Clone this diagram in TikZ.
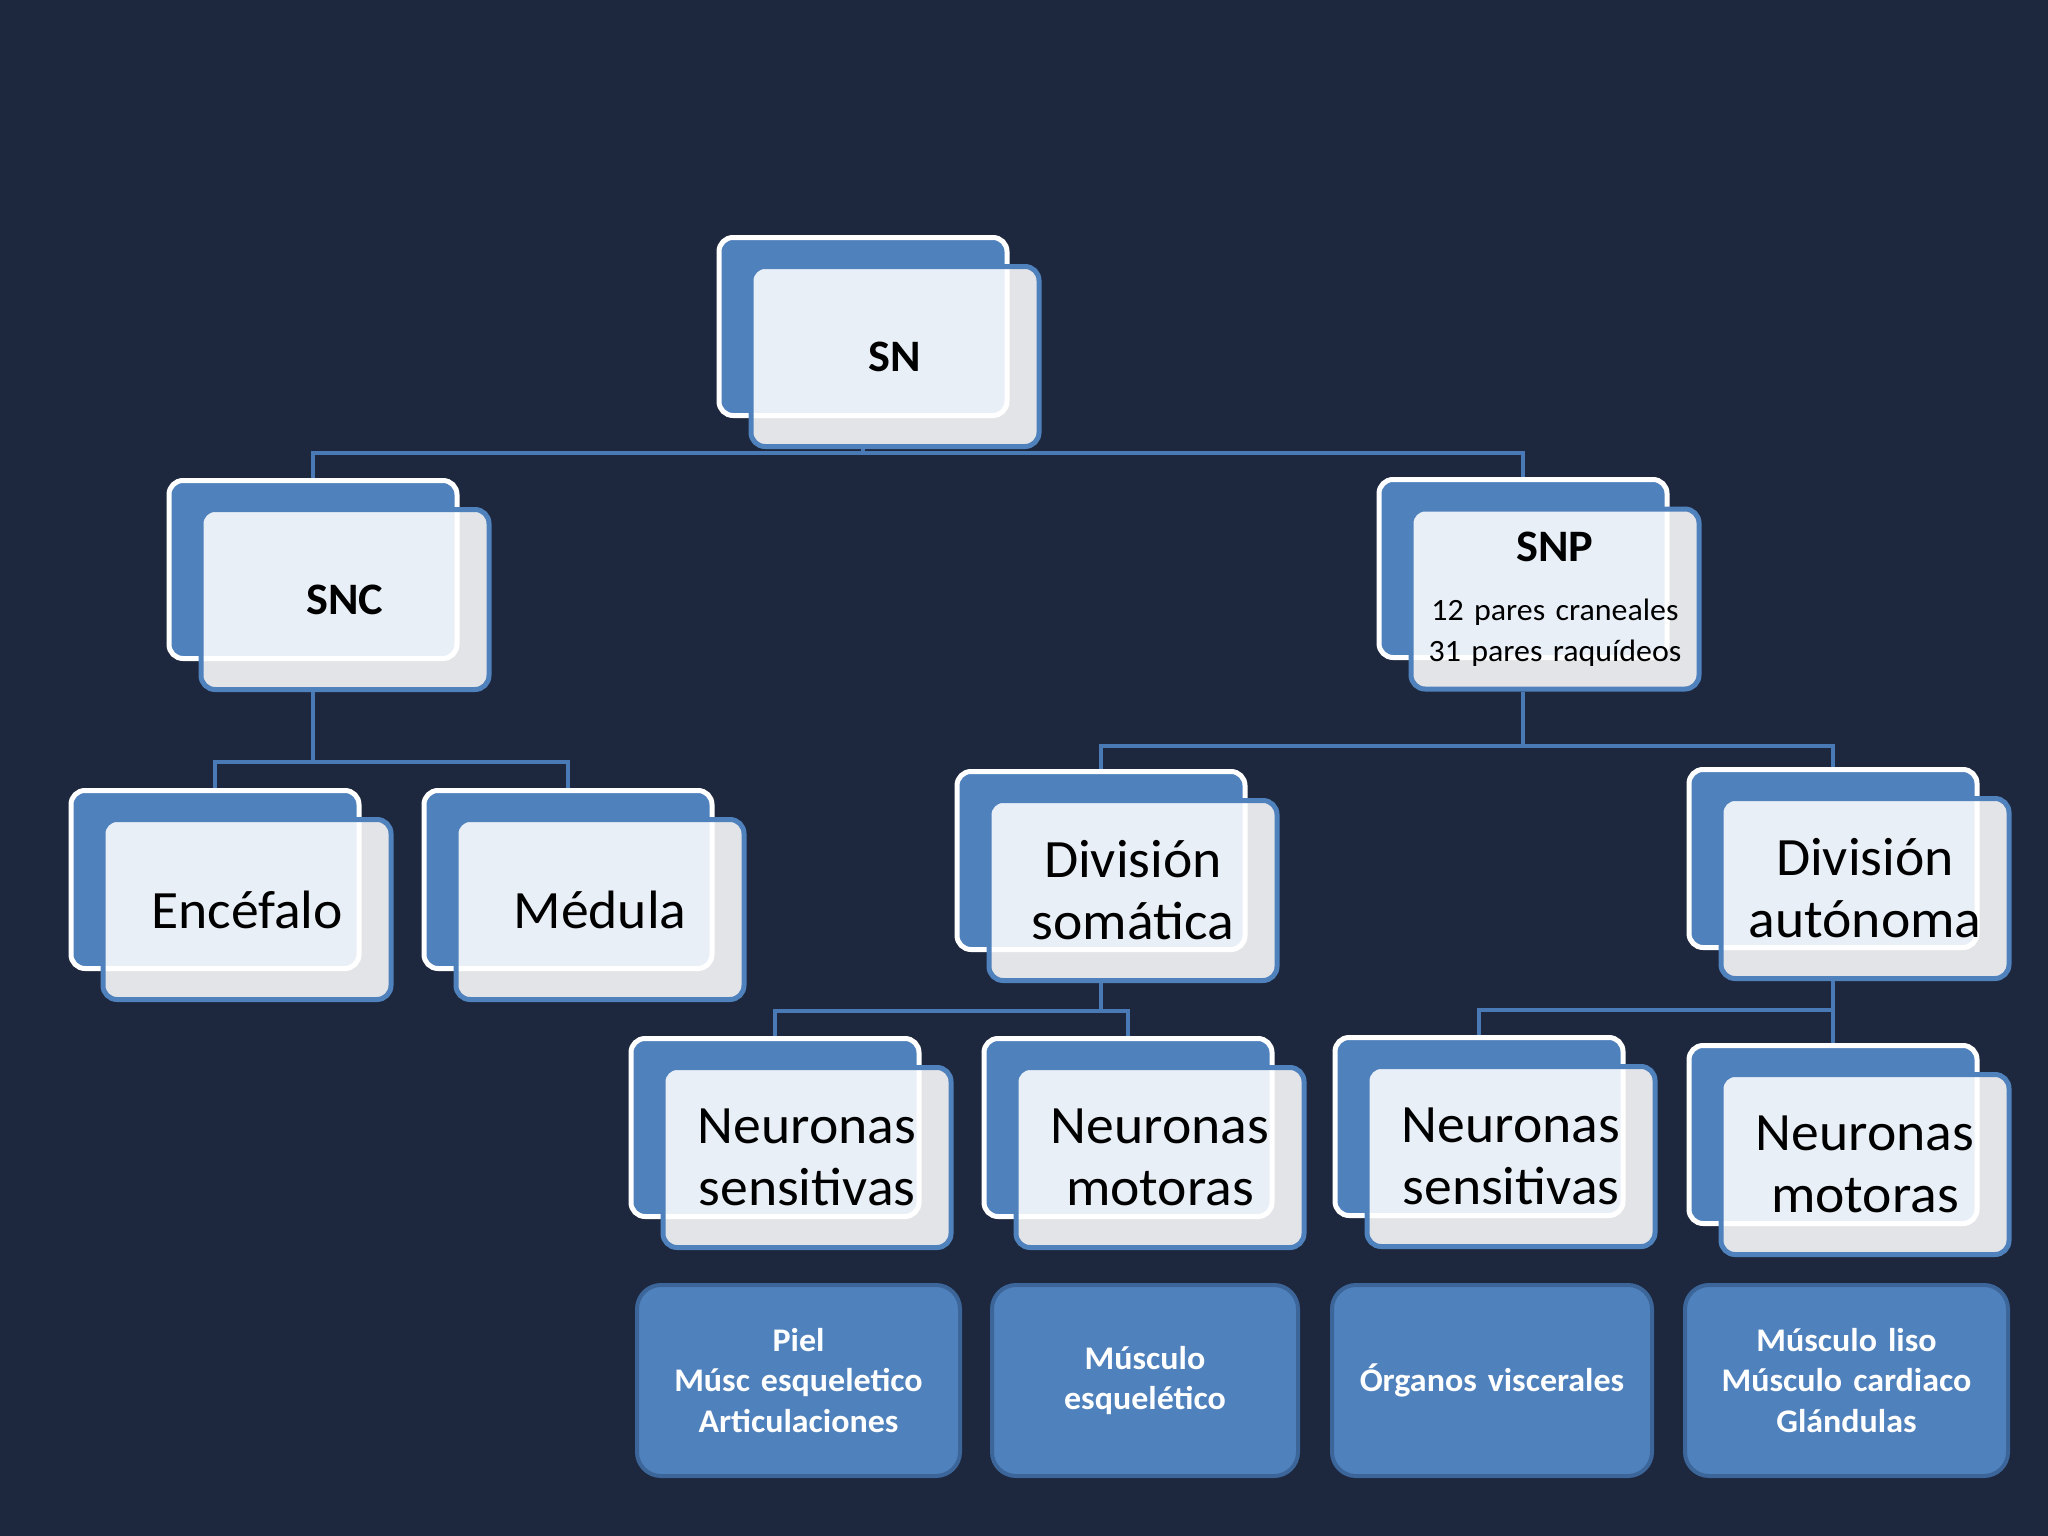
\documentclass[tikz,border=0pt]{standalone}
\usepackage{fontspec}
\setmainfont[FakeStretch=1.03]{Carlito}
\definecolor{bgnavy}{RGB}{29,40,62}
\definecolor{boxblue}{RGB}{79,129,189}
\definecolor{linkblue}{RGB}{74,122,182}
\definecolor{bordblue}{RGB}{60,102,154}
\pgfdeclarelayer{bglayer}
\pgfdeclarelayer{links}
\pgfsetlayers{bglayer,links,main}
\begin{document}
\begin{tikzpicture}[x=1pt,y=-1pt,
  backbox/.style={rectangle, rounded corners=14pt, fill=boxblue, draw=white, line width=5pt,
    minimum width=288pt, minimum height=178pt, inner sep=0pt},
  frontbox/.style={rectangle, rounded corners=14pt, fill=white, fill opacity=0.88, text opacity=1,
    draw=boxblue, draw opacity=1, line width=5pt, minimum width=288pt, minimum height=180pt,
    inner sep=0pt, text width=280pt, align=center, text=black},
  titlefont/.style={font=\fontsize{45}{54}\selectfont\bfseries},
  bigfont/.style={font=\fontsize{54}{62}\selectfont},
  leafbox/.style={rectangle, rounded corners=24pt, fill=boxblue, draw=bordblue, line width=4pt,
    minimum height=191pt, inner sep=0pt, text width=300pt, align=center, text=white,
    font=\fontsize{33}{40.5}\selectfont\bfseries},
  conn/.style={draw=linkblue, line width=4.5pt}
]
\begin{pgfonlayer}{bglayer}
  \fill[bgnavy] (0,0) rectangle (2048,1536);
\end{pgfonlayer}
\useasboundingbox (0,0) rectangle (2048,1536);

% level 0
\node[backbox] (snb) at (863,326.5) {};
\node[frontbox, titlefont] (snf) at (895,356.5) {SN};
% level 1
\node[backbox] (sncb) at (313,569.5) {};
\node[frontbox, titlefont] (sncf) at (345,599.5) {SNC};
\node[backbox] (snpb) at (1523,568.5) {};
\node[frontbox, font=\fontsize{31}{41}\selectfont] (snpf) at (1555,599)
  {{\fontsize{45}{54}\selectfont\bfseries SNP}\\[18pt]12 pares craneales\\31 pares raquídeos};
% level 2
\node[backbox] (encb) at (215,879.5) {};
\node[frontbox, bigfont] (encf) at (247,909.5) {Encéfalo};
\node[backbox] (medb) at (568,879.5) {};
\node[frontbox, bigfont] (medf) at (600,909.5) {Médula};
\node[backbox] (somb) at (1101,860.5) {};
\node[frontbox, bigfont] (somf) at (1133,890.5) {División\\somática};
\node[backbox] (autb) at (1833,858.5) {};
\node[frontbox, bigfont] (autf) at (1865,888.5) {División\\autónoma};
% level 3
\node[backbox] (ns1b) at (775,1127.5) {};
\node[frontbox, bigfont] (ns1f) at (807,1157.5) {Neuronas\\sensitivas};
\node[backbox] (nm1b) at (1128,1127.5) {};
\node[frontbox, bigfont] (nm1f) at (1160,1157.5) {Neuronas\\motoras};
\node[backbox] (ns2b) at (1479,1126.5) {};
\node[frontbox, bigfont] (ns2f) at (1511,1156.5) {Neuronas\\sensitivas};
\node[backbox] (nm2b) at (1833,1134.5) {};
\node[frontbox, bigfont] (nm2f) at (1865,1164.5) {Neuronas\\motoras};
% leaves
\node[leafbox, minimum width=323pt] (leaf1) at (798.5,1380.5) {Piel\\Músc esqueletico\\Articulaciones};
\node[leafbox, minimum width=306pt] (leaf2) at (1145,1380.5) {Músculo\\esquelético};
\node[leafbox, minimum width=320pt] (leaf3) at (1492,1380.5) {Órganos viscerales};
\node[leafbox, minimum width=323pt] (leaf4) at (1846.5,1380.5) {Músculo liso\\Músculo cardiaco\\Glándulas};

% bus levels
\coordinate (busSN) at (0,453);
\coordinate (busSNC) at (0,762);
\coordinate (busSNP) at (0,746);
\coordinate (busSOM) at (0,1011);
\coordinate (busAUT) at (0,1010);

\begin{pgfonlayer}{links}
  \draw[conn] (snb.center |- snf.south) -- (snb.center |- busSN) -| (sncb.north);
  \draw[conn] (snb.center |- busSN) -| (snpb.north);
  \draw[conn] (sncb.center |- sncf.south) -- (sncb.center |- busSNC) -| (encb.north);
  \draw[conn] (sncb.center |- busSNC) -| (medb.north);
  \draw[conn] (snpb.center |- snpf.south) -- (snpb.center |- busSNP) -| (somb.north);
  \draw[conn] (snpb.center |- busSNP) -| (autb.north);
  \draw[conn] (somb.center |- somf.south) -- (somb.center |- busSOM) -| (ns1b.north);
  \draw[conn] (somb.center |- busSOM) -| (nm1b.north);
  \draw[conn] (autb.center |- autf.south) -- (autb.center |- busAUT) -| (ns2b.north);
  \draw[conn] (autb.center |- busAUT) -| (nm2b.north);
\end{pgfonlayer}
\end{tikzpicture}
\end{document}
